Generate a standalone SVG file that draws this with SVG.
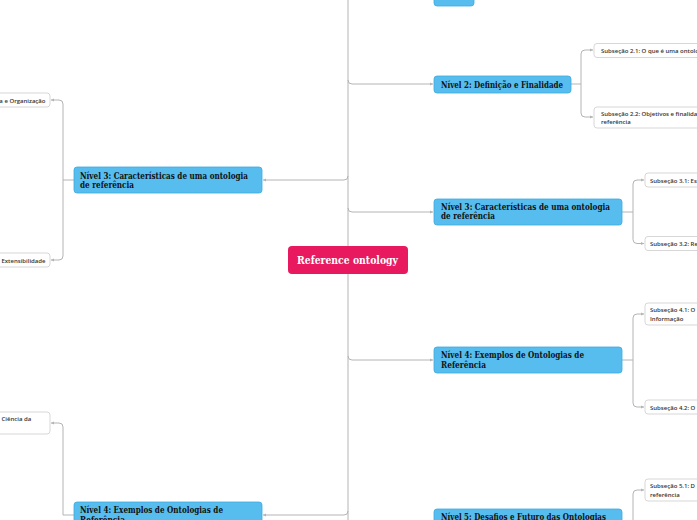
<svg xmlns="http://www.w3.org/2000/svg" width="697" height="520" viewBox="0 0 697 520">
<defs>
<style>
.bg{fill:#ffffff}
.conn{fill:none;stroke:#b4b4b4;stroke-width:1}
.main{fill:#56bdee;stroke:#3ea9e0;stroke-width:0.8}
.root{fill:#e8195e}
.sub{fill:#ffffff;stroke:#d2d2d2;stroke-width:0.9}
.mt{font-family:"DejaVu Serif","Liberation Serif",serif;font-weight:bold;font-size:9px;fill:#111111}
.rt{font-family:"DejaVu Serif","Liberation Serif",serif;font-weight:bold;font-size:11px;fill:#ffffff}
.st{font-family:"Open Sans","Noto Sans",sans-serif;font-weight:600;font-size:6px;fill:#333333}
</style>
<marker id="tick" markerWidth="4" markerHeight="4" refX="3" refY="2" orient="auto" markerUnits="userSpaceOnUse">
<path d="M0,0.6 L3,2 L0,3.4 Z" fill="#b4b4b4"/>
</marker>
</defs>
<rect class="bg" x="0" y="0" width="697" height="520"/>

<g id="connectors">
<line class="conn" x1="348" y1="0" x2="348" y2="520"/>
<path class="conn" d="M348,80 Q348,84 352,84 L433,84" marker-end="url(#tick)"/>
<path class="conn" d="M348,208 Q348,212 352,212 L433,212" marker-end="url(#tick)"/>
<path class="conn" d="M348,356 Q348,360 352,360 L433,360" marker-end="url(#tick)"/>
<path class="conn" d="M348,176 Q348,180 344,180 L263,180" marker-end="url(#tick)"/>
<path class="conn" d="M348,511 Q348,515 344,515 L263,515" marker-end="url(#tick)"/>
<!-- Nivel 2 children -->
<path class="conn" d="M571,84 H581"/>
<path class="conn" d="M581,84 V54 Q581,50 585,50 H593" marker-end="url(#tick)"/>
<path class="conn" d="M581,84 V113 Q581,117 585,117 H593" marker-end="url(#tick)"/>
<!-- Nivel 3 right children -->
<path class="conn" d="M622,212 H633"/>
<path class="conn" d="M633,212 V184 Q633,180 637,180 H644" marker-end="url(#tick)"/>
<path class="conn" d="M633,212 V239.5 Q633,243.5 637,243.5 H644" marker-end="url(#tick)"/>
<!-- Nivel 4 right children -->
<path class="conn" d="M622,360 H633"/>
<path class="conn" d="M633,360 V318 Q633,314 637,314 H644" marker-end="url(#tick)"/>
<path class="conn" d="M633,360 V403 Q633,407 637,407 H644" marker-end="url(#tick)"/>
<!-- Nivel 5 right child -->
<path class="conn" d="M633,520 V494 Q633,490 637,490 H644" marker-end="url(#tick)"/>
<!-- Left Nivel 3 children -->
<path class="conn" d="M74,180 H63"/>
<path class="conn" d="M63,180 V104 Q63,100 59,100 H51" marker-end="url(#tick)"/>
<path class="conn" d="M63,180 V256 Q63,260 59,260 H51" marker-end="url(#tick)"/>
<!-- Left Nivel 4 children -->
<path class="conn" d="M74,515 H63"/>
<path class="conn" d="M63,515 V427 Q63,423 59,423 H51" marker-end="url(#tick)"/>
</g>

<g id="root">
<rect class="root" x="288" y="246" width="120" height="28" rx="4"/>
<text class="rt" x="297" y="264" textLength="101" lengthAdjust="spacingAndGlyphs">Reference ontology</text>
</g>

<g id="n1">
<rect class="main" x="434" y="-16" width="40" height="22" rx="3"/>
</g>

<g id="n2">
<rect class="main" x="434" y="76" width="137" height="17" rx="3"/>
<text class="mt" x="441" y="87.5" textLength="122" lengthAdjust="spacingAndGlyphs">Nível 2: Definição e Finalidade</text>
</g>

<g id="n3r">
<rect class="main" x="434" y="199" width="188" height="26" rx="3"/>
<text class="mt" x="441" y="209.5" textLength="169" lengthAdjust="spacingAndGlyphs">Nível 3: Características de uma ontologia</text>
<text class="mt" x="441" y="219" textLength="54" lengthAdjust="spacingAndGlyphs">de referência</text>
</g>

<g id="n4r">
<rect class="main" x="434" y="347" width="188" height="26" rx="3"/>
<text class="mt" x="441" y="358" textLength="143" lengthAdjust="spacingAndGlyphs">Nível 4: Exemplos de Ontologias de</text>
<text class="mt" x="441" y="367.5" textLength="45" lengthAdjust="spacingAndGlyphs">Referência</text>
</g>

<g id="n5r">
<rect class="main" x="434" y="509" width="188" height="26" rx="3"/>
<text class="mt" x="441" y="520" textLength="165" lengthAdjust="spacingAndGlyphs">Nível 5: Desafios e Futuro das Ontologias</text>
</g>

<g id="n3l">
<rect class="main" x="74" y="167" width="188" height="26" rx="3"/>
<text class="mt" x="80" y="178.5" textLength="168" lengthAdjust="spacingAndGlyphs">Nível 3: Características de uma ontologia</text>
<text class="mt" x="80" y="188" textLength="54" lengthAdjust="spacingAndGlyphs">de referência</text>
</g>

<g id="n4l">
<rect class="main" x="74" y="502" width="188" height="26" rx="3"/>
<text class="mt" x="80" y="513" textLength="143" lengthAdjust="spacingAndGlyphs">Nível 4: Exemplos de Ontologias de</text>
<text class="mt" x="80" y="522.5" textLength="45" lengthAdjust="spacingAndGlyphs">Referência</text>
</g>

<g id="s21">
<rect class="sub" x="594" y="43.5" width="130" height="14" rx="3"/>
<text class="st" x="601" y="52.5">Subseção 2.1: O que é uma ontolo</text>
</g>
<g id="s22">
<rect class="sub" x="594" y="107" width="130" height="21" rx="3"/>
<text class="st" x="601" y="115.5">Subseção 2.2: Objetivos e finalida</text>
<text class="st" x="601" y="124">referência</text>
</g>
<g id="s31r">
<rect class="sub" x="645" y="173" width="80" height="14" rx="3"/>
<text class="st" x="650" y="182.5">Subseção 3.1: Es</text>
</g>
<g id="s32r">
<rect class="sub" x="645" y="236.5" width="80" height="14" rx="3"/>
<text class="st" x="650" y="246">Subseção 3.2: Re</text>
</g>
<g id="s41r">
<rect class="sub" x="645" y="303" width="80" height="22" rx="3"/>
<text class="st" x="650" y="311.5">Subseção 4.1: O</text>
<text class="st" x="650" y="320.5">Informação</text>
</g>
<g id="s42r">
<rect class="sub" x="645" y="400" width="80" height="14" rx="3"/>
<text class="st" x="650" y="409.5">Subseção 4.2: O</text>
</g>
<g id="s51r">
<rect class="sub" x="645" y="479" width="80" height="22" rx="3"/>
<text class="st" x="650" y="487.5">Subseção 5.1: D</text>
<text class="st" x="650" y="496.5">referência</text>
</g>
<g id="s31l">
<rect class="sub" x="-80" y="93" width="130" height="14" rx="3"/>
<text class="st" x="45.5" y="102.5" text-anchor="end">a e Organização</text>
</g>
<g id="s32l">
<rect class="sub" x="-80" y="253" width="130" height="14" rx="3"/>
<text class="st" x="45.5" y="262.5" text-anchor="end">Extensibilidade</text>
</g>
<g id="s41l">
<rect class="sub" x="-80" y="412" width="130" height="22" rx="3"/>
<text class="st" x="1.5" y="420.5">Ciência da</text>
</g>
</svg>
